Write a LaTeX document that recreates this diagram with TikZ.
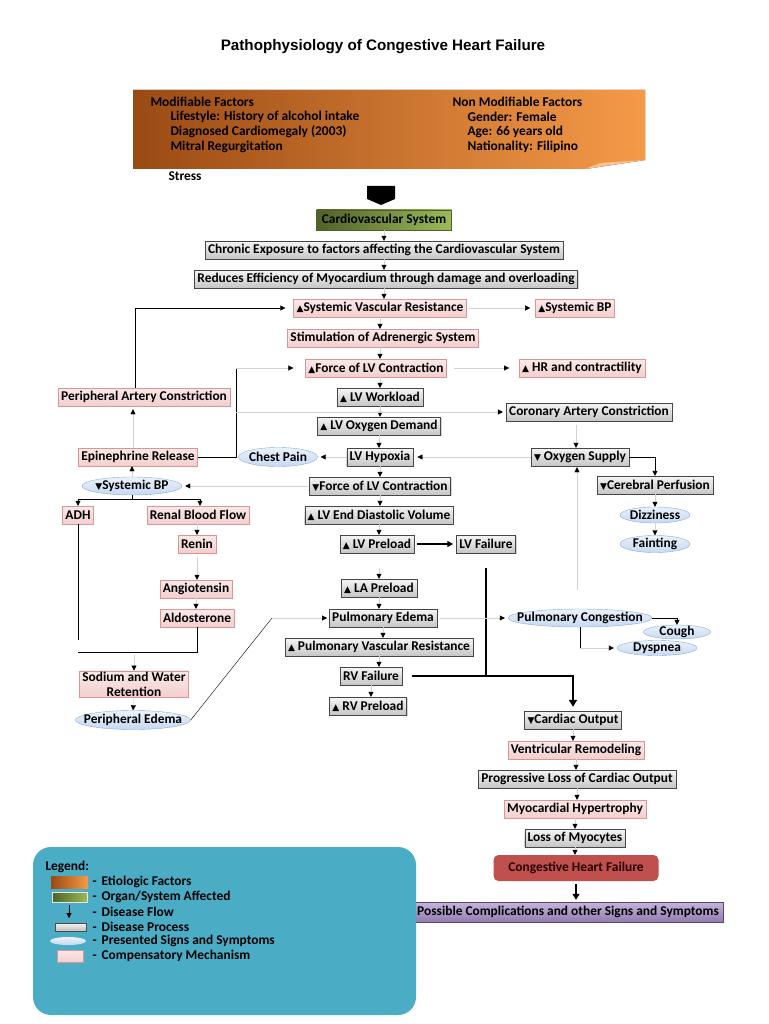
\documentclass[tikz,border=0pt]{standalone}
\usepackage{fontspec}
\setmainfont{Carlito}
\newfontfamily\titlefont{Liberation Sans}
\newfontfamily\symf{DejaVu Sans}
\usetikzlibrary{arrows.meta,shapes.geometric,shadows}

\definecolor{orgdark}{HTML}{9A4A14}
\definecolor{orglight}{HTML}{F59A48}
\definecolor{grndark}{HTML}{4F6228}
\definecolor{grnlight}{HTML}{9BBB59}
\definecolor{pinkfill}{HTML}{F2CFCE}
\definecolor{pinkline}{HTML}{D99694}
\definecolor{bluefill}{HTML}{C6D9F1}
\definecolor{blueline}{HTML}{8EAADB}
\definecolor{chfred}{HTML}{C0504D}
\definecolor{purpA}{HTML}{8064A2}
\definecolor{purpB}{HTML}{C4B5DA}
\definecolor{legendc}{HTML}{4BACC6}

\newcommand{\upa}{{\symf\fontsize{9}{9}\selectfont ▲}}
\newcommand{\dna}{{\symf\fontsize{9}{9}\selectfont ▼}}

\tikzset{
  proc/.style={draw=gray!55!black, top color=gray!8, bottom color=gray!45,
    inner xsep=3pt, inner ysep=0pt, minimum height=18pt,
    drop shadow={shadow xshift=1pt, shadow yshift=-1pt, opacity=.35}},
  comp/.style={draw=pinkline, top color=pinkfill!45!white, bottom color=pinkfill,
    inner xsep=3pt, inner ysep=0pt, minimum height=18pt},
  sign/.style 2 args={ellipse, draw=blueline, top color=bluefill!35!white,
    bottom color=bluefill, inner xsep=-40pt, inner ysep=-8pt,
    minimum width=#1, minimum height=#2},
  flow/.style={draw=gray!35, -{Triangle[color=black,length=5pt,width=5pt]}},
  link/.style={draw=black},
  heavy/.style={line width=1.8pt, black},
  tri/.tip={Triangle[length=5pt,width=5pt]}
}

\begin{document}
\begin{tikzpicture}[x=1pt, y=-1pt, font=\bfseries\fontsize{13.4}{15}\selectfont]
\useasboundingbox (0,0) rectangle (768,1024);

\node (ttl) at (383,47) {\titlefont\bfseries\fontsize{15.2}{17}\selectfont Pathophysiology of Congestive Heart Failure};

% etiologic factors banner
\fill[left color=orgdark, right color=orglight] (133,90) -- (645,90) -- (645,160) -- (585,169) -- (133,169) -- cycle;
\fill[orglight!60!white] (585,169) -- (645,160) -- (600,163) -- cycle;
\node[anchor=west] (modf) at (147,102) {Modifiable Factors};
\node[anchor=west] (life) at (167,117) {Lifestyle: History of alcohol intake};
\node[anchor=west] (cmeg) at (167,132) {Diagnosed Cardiomegaly (2003)};
\node[anchor=west] (mitral) at (167,147) {Mitral Regurgitation};
\node[anchor=west] (nmodf) at (449,102) {Non Modifiable Factors};
\node[anchor=west] (gender) at (464,117) {Gender: Female};
\node[anchor=west] (age) at (464,132) {Age: 66 years old};
\node[anchor=west] (nation) at (464,147) {Nationality: Filipino};
\node[anchor=west] (stress) at (165,176) {Stress};
\fill (367,186) -- (395,186) -- (395,199) -- (381,205) -- (367,199) -- cycle;

% disease process
\node[draw=grndark, left color=grndark, right color=grnlight, minimum width=135pt, minimum height=20pt] (cvs) at (384,220) {Cardiovascular System};
\node[proc] (chron) at (384,250) {Chronic Exposure to factors affecting the Cardiovascular System};
\node[proc] (redu) at (386,279) {Reduces Efficiency of Myocardium through damage and overloading};
\node[comp] (svr) at (380,308) {\upa Systemic Vascular Resistance};
\node[comp] (sbpup) at (575,308) {\upa Systemic BP};
\node[comp] (adren) at (383,338) {Stimulation of Adrenergic System};
\node[comp] (flvup) at (376,368) {\upa Force of LV Contraction};
\node[comp] (hr) at (582,368) {\upa\ HR and contractility};
\node[proc] (work) at (380,397) {\upa\ LV Workload};
\node[proc] (cac) at (589,412) {Coronary Artery Constriction};
\node[proc] (odem) at (379,426) {\upa\ LV Oxygen Demand};
\node[comp] (pac) at (144,397) {Peripheral Artery Constriction};
\node[comp] (epi) at (138,457) {Epinephrine Release};
\node[sign={79pt}{19pt}] (chest) at (278,457) {Chest Pain};
\node[proc] (hyp) at (380,457) {LV Hypoxia};
\node[proc] (osup) at (580,457) {\dna\ Oxygen Supply};
\node[sign={100pt}{18pt}] (sbpdn) at (132,486) {\dna Systemic BP};
\node[proc] (flvdn) at (380,486) {\dna Force of LV Contraction};
\node[proc] (cereb) at (655,485) {\dna Cerebral Perfusion};
\node[comp] (adh) at (78,515) {ADH};
\node[comp] (renal) at (198,515) {Renal Blood Flow};
\node[proc] (edv) at (379,515) {\upa\ LV End Diastolic Volume};
\node[sign={70pt}{16pt}] (dizz) at (655,515) {Dizziness};
\node[comp] (renin) at (197,544) {Renin};
\node[proc] (lvp) at (377,544) {\upa\ LV Preload};
\node[proc] (lvf) at (486,544) {LV Failure};
\node[sign={70pt}{17pt}] (faint) at (655,544) {Fainting};
\node[comp] (angio) at (196,589) {Angiotensin};
\node[proc] (lap) at (379,588) {\upa\ LA Preload};
\node[comp] (aldo) at (197,618) {Aldosterone};
\node[proc] (pedem) at (383,618) {Pulmonary Edema};
\node[sign={144pt}{18pt}] (pcong) at (580,618) {Pulmonary Congestion};
\node[sign={67pt}{14pt}] (cough) at (677,632) {Cough};
\node[sign={80pt}{15pt}] (dysp) at (657,648) {Dyspnea};
\node[proc] (pvr) at (379,647) {\upa\ Pulmonary Vascular Resistance};
\node[comp, align=center, inner ysep=1pt, minimum width=109pt] (swr) at (134,684) {Sodium and Water\\Retention};
\node[proc] (rvf) at (371,676) {RV Failure};
\node[sign={115pt}{19pt}] (pere) at (133,720) {Peripheral Edema};
\node[proc] (rvp) at (368,706) {\upa\ RV Preload};
\node[proc] (cout) at (573,720) {\dna Cardiac Output};
\node[comp] (vrem) at (576,750) {Ventricular Remodeling};
\node[proc] (ploss) at (577,779) {Progressive Loss of Cardiac Output};
\node[comp] (myoh) at (575,809) {Myocardial Hypertrophy};
\node[proc] (lmyo) at (575,838) {Loss of Myocytes};
\node[fill=chfred, rounded corners=5pt, minimum width=165pt, minimum height=26pt, text=black!85!red] (chf) at (576,868) {Congestive Heart Failure};
\node[draw=purpA!70!black, top color=purpB, bottom color=purpA!85, minimum height=20pt, inner xsep=4pt] (poss) at (568,912) {Possible Complications and other Signs and Symptoms};

% main column
\draw[flow] (cvs.south) -- (cvs.south |- chron.north);
\draw[flow] (chron.south) -- (chron.south |- redu.north);
\draw[flow] (chron.south |- redu.south) -- (chron.south |- svr.north);
\draw[flow] (svr.south) -- (svr.south |- adren.north);
\draw[flow] (svr.south |- adren.south) -- (svr.south |- flvup.north);
\draw[flow] (work.north |- flvup.south) -- (work.north);
\draw[flow] (work.south) -- (work.south |- odem.north);
\draw[flow] (odem.south) -- (odem.south |- hyp.north);
\draw[flow] (hyp.south) -- (hyp.south |- flvdn.north);
\draw[flow] (flvdn.south) -- (flvdn.south |- edv.north);
\draw[flow] (edv.south) -- (edv.south |- lvp.north);
\draw[heavy, -{Triangle[length=6pt,width=6pt]}, line width=1.4pt, shorten <=3pt, shorten >=3pt] (lvp.east) -- (lvf.west);
\coordinate (tk) at (486,568);
\draw[flow] (lap.north |- tk) -- (lap.north);
\draw[flow] (lap.south) -- (lap.south |- pedem.north);
\draw[flow] (pedem.south) -- (pedem.south |- pvr.north);
\draw[flow] (pvr.south) -- (pvr.south |- rvf.north);
\draw[flow] (rvf.south) -- (rvf.south |- rvp.north);
\draw[heavy] (tk) -- (tk |- rvf.east);
\draw[heavy, -{Triangle[length=7pt,width=8pt]}, shorten <=10pt, shorten >=4pt] (rvf.east) -| (cout.north);
\draw[flow] (cout.south) -- (cout.south |- vrem.north);
\draw[flow] (vrem.south) -- (vrem.south |- ploss.north);
\draw[flow] (ploss.south) -- (ploss.south |- myoh.north);
\draw[flow] (myoh.south) -- (myoh.south |- lmyo.north);
\draw[flow] (lmyo.south) -- (lmyo.south |- chf.north);
\draw[heavy, -{Triangle[length=6pt,width=7pt]}, line width=1.6pt, shorten <=3pt, shorten >=2pt] (chf.south) -- (chf.south |- poss.north);

% right side
\draw[flow, shorten <=2pt, shorten >=5pt] (svr.east) -- (sbpup.west);
\draw[flow, shorten <=7pt, shorten >=10pt] (flvup.east) -- (hr.west);
\draw[flow, shorten <=4pt] ([xshift=-13pt]cac.south) -- ([xshift=-13pt]cac.south |- osup.north);
\draw[flow, shorten >=4pt] (osup.west) -- (hyp.east);
\draw[flow, shorten >=3pt] (hyp.west) -- (chest.east);
\draw[link, -tri] (osup.east) -| (cereb.north);
\draw[flow] (cereb.south) -- (dizz.north);
\draw[flow] (dizz.south) -- (faint.north);
\draw[flow, shorten <=3pt, shorten >=3pt] (pedem.east) -- (pcong.west);
\draw[flow, shorten <=19pt, shorten >=1pt] ([xshift=-3pt]pcong.north) -- ([xshift=-3pt]pcong.north |- osup.south);
\draw[link, -tri] (pcong.east) -| (cough.north);
\draw[link] (pcong.south) -- (pcong.south |- dysp.west);
\draw[flow, shorten >=3pt] (pcong.south |- dysp.west) -- (dysp.west);

% left side
\draw[link, -tri, shorten >=8pt] ([xshift=-9pt]pac.north) |- (svr.west);
\draw[flow, shorten >=3pt] ([xshift=-5pt]epi.north) -- ([xshift=-5pt]epi.north |- pac.south);
\coordinate (ecor) at (236,368);
\draw[link] (epi.east) -| (ecor);
\draw[flow, shorten >=12pt] (ecor) -- (flvup.west);
\draw[flow, shorten >=3pt] (ecor |- cac.west) -- (cac.west);
\draw[flow, shorten >=3pt] (flvdn.west) -- (sbpdn.east);
\draw[flow] (sbpdn.north) -- (sbpdn.north |- epi.south);
\coordinate (sj) at (132,499);
\draw[link] (sbpdn.south) -- (sj);
\draw[link, -tri] (sj) -| (adh.north);
\draw[link, -tri] (sj) -| ([xshift=2pt]renal.north);
\draw[flow] (renin.north |- renal.south) -- (renin.north);
\draw[flow, shorten <=4pt] (renin.south) -- (renin.south |- angio.north);
\draw[flow] (angio.south) -- (angio.south |- aldo.north);
\draw[link] (adh.south) -- ++(0,116);
\coordinate (aj) at (78,652);
\draw[link] (aldo.south) |- (aj);
\draw[flow, shorten <=3pt] (swr.north |- aj) -- (swr.north);
\draw[flow] (swr.south) -- (pere.north);
\coordinate (pj) at (272,618);
\draw[link] (pere.east) -- (pj);
\draw[flow, shorten >=2pt] (pj) -- (pedem.west);

% legend
\fill[legendc, rounded corners=18pt] (33,847) rectangle (416,1015);
\node[anchor=west] (lgd) at (42,867) {Legend:};
\shade[left color=orgdark, right color=orglight] (51,876) rectangle (88,888);
\shade[draw=white!80!gray, left color=grndark, right color=grnlight] (52,892) rectangle (87,902);
\draw[-tri] (69,905) -- (69,918);
\shade[draw=gray!60!black, top color=gray!8, bottom color=gray!50] (55,923) rectangle (86,931);
\shade[top color=bluefill!35!white, bottom color=bluefill] (68,941) ellipse (18 and 4);
\shade[draw=pinkline, top color=pinkfill!45!white, bottom color=pinkfill] (57,950) rectangle (83,962);
\node[anchor=west] (l1) at (89,882) {-\hspace{5pt}Etiologic Factors};
\node[anchor=west] (l2) at (89,897) {-\hspace{5pt}Organ/System Affected};
\node[anchor=west] (l3) at (89,912) {-\hspace{5pt}Disease Flow};
\node[anchor=west] (l4) at (89,927) {-\hspace{5pt}Disease Process};
\node[anchor=west] (l5) at (89,941) {-\hspace{5pt}Presented Signs and Symptoms};
\node[anchor=west] (l6) at (89,956) {-\hspace{5pt}Compensatory Mechanism};
\end{tikzpicture}
\end{document}
